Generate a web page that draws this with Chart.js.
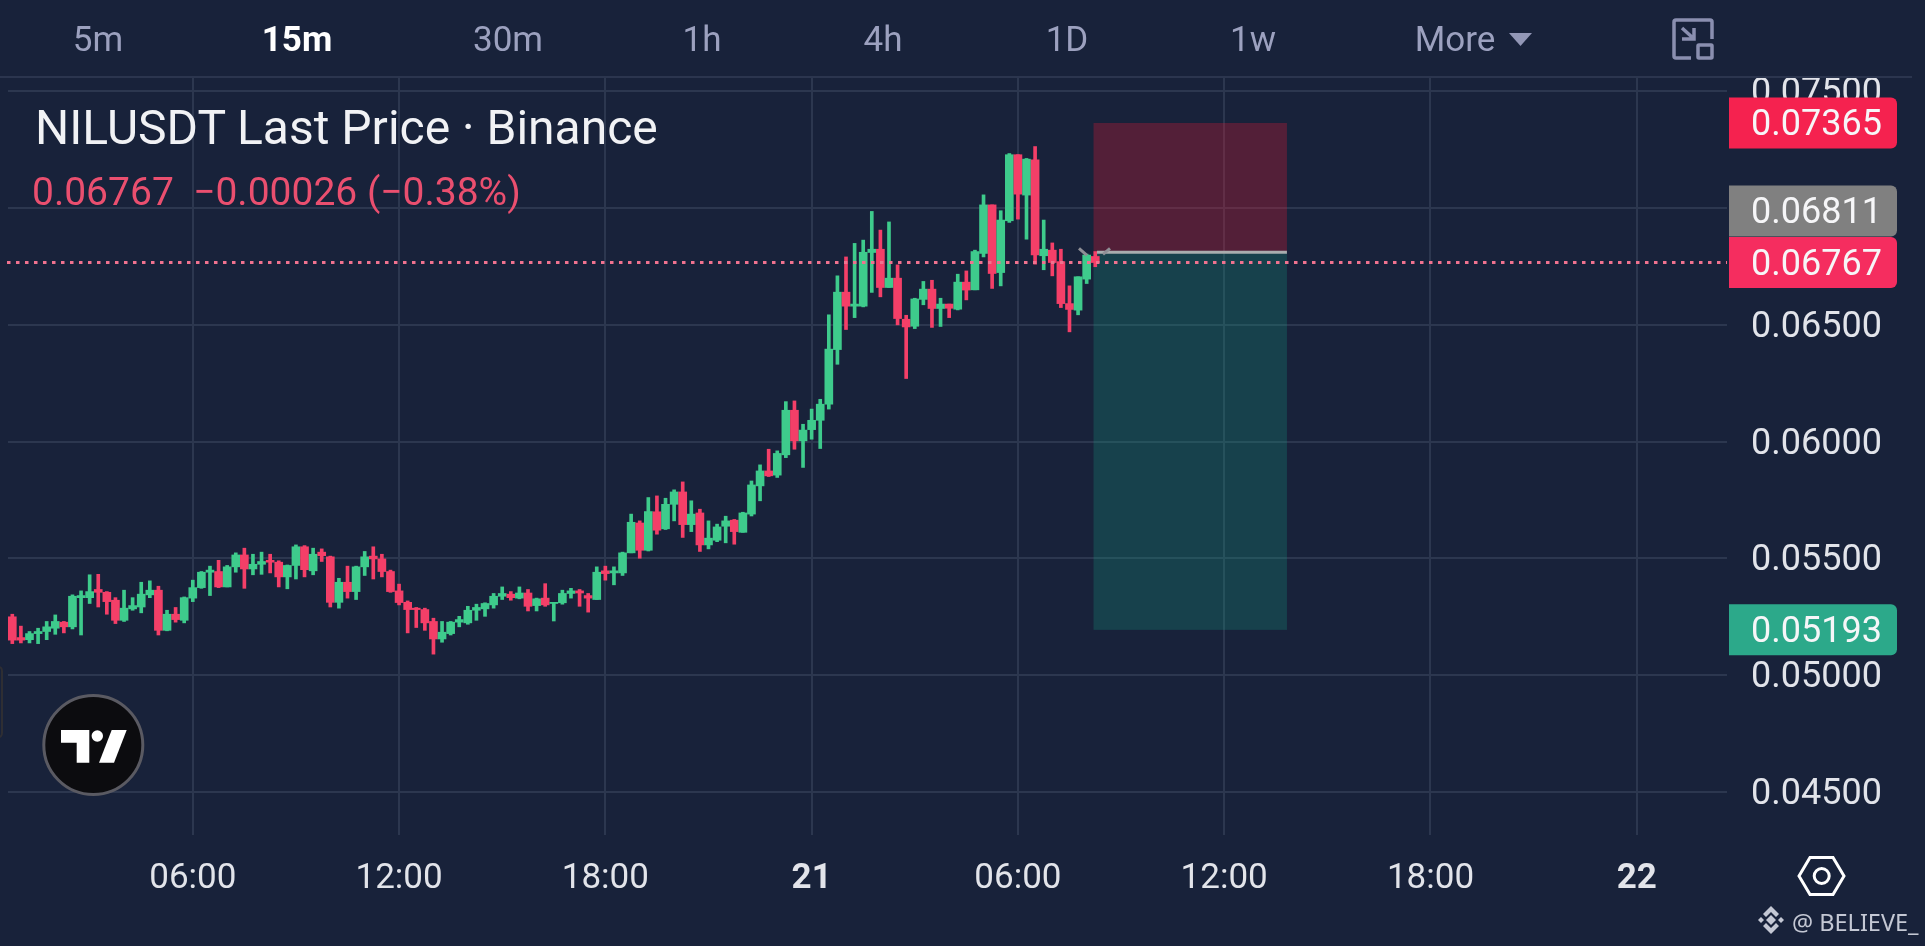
<!DOCTYPE html>
<html>
<head>
<meta charset="utf-8">
<title>NILUSDT</title>
<script src="https://cdn.jsdelivr.net/npm/chart.js@4"></script>
<style>
  html, body { margin: 0; padding: 0; background: #18223a; overflow: hidden; }
  #wrap { position: relative; width: 1925px; height: 946px; font-family: Roboto, sans-serif; }
  canvas { position: absolute; left: 0; top: 0; }
  svg { position: absolute; left: 0; top: 0; }
  .tf { position: absolute; top: 21px; font-size: 35px; line-height: 38px; color: #9ca1bf; transform: translateX(-50%); white-space: nowrap; }
  .tf.on { color: #fff; font-weight: 700; }
  #title { position: absolute; left: 35px; top: 102px; font-size: 48px; line-height: 52px; color: #f1f2f5; white-space: nowrap; }
  #change { position: absolute; left: 32px; top: 169px; font-size: 39px; line-height: 46px; color: #ea4f6f; white-space: pre; }
  #mark { position: absolute; left: 1792px; top: 906px; font-family: "Noto Sans", sans-serif; font-size: 23.5px; line-height: 32px; color: #c4c8d4; white-space: nowrap; }
</style>
</head>
<body>
<div id="wrap">
  <canvas id="chart" width="1925" height="946"></canvas>
  <span class="tf" style="left:98px">5m</span>
  <span class="tf on" style="left:297px">15m</span>
  <span class="tf" style="left:508px">30m</span>
  <span class="tf" style="left:702px">1h</span>
  <span class="tf" style="left:883px">4h</span>
  <span class="tf" style="left:1067px">1D</span>
  <span class="tf" style="left:1253px">1w</span>
  <span class="tf" style="left:1455px">More</span>
  <div id="title">NILUSDT Last Price · Binance</div>
  <div id="change">0.06767  −0.00026 (−0.38%)</div>
  <div id="mark">@ BELIEVE_</div>
  <svg width="1925" height="946" viewBox="0 0 1925 946">
    <polygon points="1509,33 1532,33 1520.5,46" fill="#9297b6"/>
    <g fill="none" stroke="#8a8fb0" stroke-width="3.5">
      <path d="M1691 58 H1676 a2 2 0 0 1 -2 -2 V22 a2 2 0 0 1 2 -2 H1710 a2 2 0 0 1 2 2 V39"/>
      <rect x="1698" y="45" width="14" height="13" rx="1"/>
      <path d="M1682 28 L1693 38 M1694 28 V39 H1682"/>
    </g>
    <rect x="-4" y="667" width="6" height="70" rx="4" fill="none" stroke="#2e2e33" stroke-width="2"/>
    <circle cx="93.3" cy="745" r="49.5" fill="#0c0c0f" stroke="#5a5a62" stroke-width="3"/>
    <polygon points="61,730 89.3,730 89.3,762.7 76.7,762.7 76.7,742.7 61,742.7" fill="#fff"/>
    <circle cx="97.3" cy="736" r="5.7" fill="#fff"/>
    <polygon points="111.7,730 126.7,730 114,762.7 99,762.7" fill="#fff"/>
    <polygon points="1799,876 1810,857.5 1833,857.5 1844,876 1833,894.5 1810,894.5" fill="none" stroke="#fff" stroke-width="3"/>
    <circle cx="1821.7" cy="876" r="7.5" fill="none" stroke="#fff" stroke-width="3"/>
    <g fill="#c4c8d4">
      <polygon points="1771,915 1776,920 1771,925 1766,920"/>
      <polygon points="1761,917 1764,920 1761,923 1758,920"/>
      <polygon points="1781,917 1784,920 1781,923 1778,920"/>
      <polygon points="1771,906 1779,914 1776,917 1771,912 1766,917 1763,914"/>
      <polygon points="1771,934 1779,926 1776,923 1771,928 1766,923 1763,926"/>
    </g>
  </svg>
</div>
<script>
// 15m candles, first one is 00:45 on the 20th
const opens = [
  0.05249,0.05160,0.05151,0.05177,0.05186,0.05200,0.05226,0.05206,0.05331,0.05331,
  0.05366,0.05354,0.05320,0.05234,0.05283,0.05291,0.05343,0.05363,0.05191,0.05260,
  0.05234,0.05329,0.05374,0.05440,0.05443,0.05377,0.05463,0.05514,0.05454,0.05474,
  0.05491,0.05483,0.05420,0.05469,0.05549,0.05446,0.05526,0.05506,0.05311,0.05397,
  0.05357,0.05463,0.05509,0.05497,0.05443,0.05360,0.05311,0.05286,0.05280,0.05229,
  0.05154,0.05177,0.05226,0.05223,0.05277,0.05283,0.05300,0.05337,0.05346,0.05329,
  0.05351,0.05297,0.05329,0.05306,0.05309,0.05349,0.05360,0.05340,0.05323,0.05446,
  0.05437,0.05437,0.05523,0.05651,0.05534,0.05699,0.05626,0.05731,0.05784,0.05644,
  0.05694,0.05557,0.05577,0.05637,0.05663,0.05611,0.05689,0.05810,0.05874,0.05856,
  0.05943,0.06134,0.06003,0.06051,0.06091,0.06160,0.06394,0.06640,0.06580,0.06580,
  0.06810,0.06824,0.06660,0.06700,0.06524,0.06494,0.06609,0.06653,0.06570,0.06589,
  0.06567,0.06683,0.06650,0.06806,0.07014,0.06724,0.06946,0.07229,0.07056,0.07207,
  0.06796,0.06820,0.06771,0.06591,0.06563,0.06696,0.06793];
const highs = [
  0.05260,0.05209,0.05186,0.05200,0.05229,0.05257,0.05229,0.05343,0.05360,0.05429,
  0.05431,0.05357,0.05331,0.05363,0.05331,0.05397,0.05403,0.05380,0.05277,0.05289,
  0.05334,0.05406,0.05443,0.05466,0.05491,0.05469,0.05523,0.05543,0.05517,0.05526,
  0.05517,0.05489,0.05471,0.05557,0.05554,0.05543,0.05540,0.05509,0.05414,0.05466,
  0.05466,0.05529,0.05549,0.05517,0.05449,0.05389,0.05317,0.05289,0.05286,0.05243,
  0.05229,0.05229,0.05251,0.05294,0.05303,0.05309,0.05349,0.05377,0.05357,0.05377,
  0.05366,0.05329,0.05391,0.05311,0.05363,0.05371,0.05366,0.05349,0.05463,0.05466,
  0.05463,0.05526,0.05689,0.05660,0.05760,0.05767,0.05757,0.05793,0.05827,0.05746,
  0.05710,0.05660,0.05646,0.05680,0.05666,0.05697,0.05831,0.05900,0.05967,0.05960,
  0.06171,0.06174,0.06074,0.06139,0.06181,0.06543,0.06710,0.06791,0.06849,0.06863,
  0.06986,0.06906,0.06941,0.06757,0.06541,0.06614,0.06686,0.06691,0.06614,0.06589,
  0.06717,0.06731,0.06820,0.07057,0.07014,0.06989,0.07234,0.07229,0.07213,0.07264,
  0.06949,0.06851,0.06824,0.06667,0.06706,0.06803,0.06814];
const lows = [
  0.05134,0.05137,0.05137,0.05134,0.05151,0.05174,0.05180,0.05197,0.05171,0.05306,
  0.05291,0.05260,0.05220,0.05229,0.05277,0.05266,0.05331,0.05171,0.05189,0.05226,
  0.05223,0.05314,0.05371,0.05340,0.05374,0.05377,0.05440,0.05371,0.05429,0.05431,
  0.05437,0.05377,0.05369,0.05411,0.05420,0.05429,0.05486,0.05291,0.05286,0.05329,
  0.05323,0.05426,0.05411,0.05420,0.05354,0.05300,0.05180,0.05203,0.05191,0.05089,
  0.05140,0.05171,0.05206,0.05217,0.05234,0.05251,0.05286,0.05323,0.05320,0.05326,
  0.05274,0.05274,0.05294,0.05231,0.05303,0.05329,0.05294,0.05269,0.05323,0.05406,
  0.05386,0.05426,0.05523,0.05500,0.05531,0.05603,0.05623,0.05660,0.05589,0.05614,
  0.05529,0.05540,0.05571,0.05566,0.05560,0.05611,0.05681,0.05746,0.05850,0.05846,
  0.05931,0.05967,0.05889,0.06010,0.05970,0.06139,0.06331,0.06480,0.06531,0.06577,
  0.06639,0.06620,0.06660,0.06500,0.06270,0.06484,0.06586,0.06489,0.06493,0.06531,
  0.06564,0.06607,0.06650,0.06791,0.06656,0.06667,0.06939,0.06953,0.06867,0.06760,
  0.06736,0.06710,0.06574,0.06470,0.06543,0.06677,0.06749];
const closes = [
  0.05149,0.05149,0.05177,0.05186,0.05206,0.05229,0.05206,0.05337,0.05340,0.05357,
  0.05354,0.05314,0.05234,0.05286,0.05297,0.05346,0.05363,0.05191,0.05260,0.05237,
  0.05331,0.05374,0.05440,0.05449,0.05377,0.05463,0.05514,0.05454,0.05474,0.05486,
  0.05483,0.05420,0.05469,0.05549,0.05451,0.05517,0.05511,0.05311,0.05397,0.05357,
  0.05463,0.05506,0.05497,0.05443,0.05357,0.05310,0.05280,0.05280,0.05223,0.05154,
  0.05183,0.05226,0.05237,0.05277,0.05289,0.05306,0.05337,0.05349,0.05331,0.05351,
  0.05294,0.05326,0.05300,0.05311,0.05349,0.05360,0.05351,0.05329,0.05440,0.05434,
  0.05446,0.05523,0.05654,0.05534,0.05700,0.05620,0.05731,0.05784,0.05644,0.05689,
  0.05557,0.05586,0.05634,0.05660,0.05614,0.05694,0.05814,0.05874,0.05853,0.05949,
  0.06134,0.06003,0.06049,0.06091,0.06160,0.06396,0.06640,0.06580,0.06589,0.06811,
  0.06824,0.06660,0.06700,0.06527,0.06491,0.06611,0.06653,0.06570,0.06589,0.06571,
  0.06683,0.06649,0.06814,0.07014,0.06720,0.06949,0.07229,0.07060,0.07210,0.06800,
  0.06824,0.06767,0.06591,0.06566,0.06706,0.06799,0.06767];

const priceTicks = [0.045, 0.05, 0.055, 0.06, 0.065, 0.07, 0.075];

const lastPrice = 0.06767;
const entryPrice = 0.06811;
const stopPrice = 0.07365;
const targetPrice = 0.05193;

const GREEN = '#3ecb8c';
const RED = '#f43f68';
const SLOTS = 200;

// x axis slots, the chart runs on past the last candle
const times = [];
for (let i = 0; i < SLOTS; i++) {
  const mins = 45 + 15 * i;
  const h = Math.floor(mins / 60) % 24;
  const m = mins % 60;
  if (h === 0 && m === 0) times.push(String(20 + mins / 1440));
  else times.push(String(h).padStart(2, '0') + ':' + String(m).padStart(2, '0'));
}

const candleColor = closes.map((c, i) => (c >= opens[i] ? GREEN : RED));
const wicks = lows.map((l, i) => [l, highs[i]]);
const bodies = opens.map((o, i) => [Math.min(o, closes[i]), Math.max(o, closes[i])]);

function roundRight(ctx, x, y, w, h, r) {
  ctx.beginPath();
  ctx.roundRect(x, y, w, h, [0, r, r, 0]);
  ctx.fill();
}

const overlays = {
  id: 'overlays',
  beforeDatasetsDraw(chart) {
    const { ctx, scales: { x, y } } = chart;
    const left = x.getPixelForValue(125.8);
    const right = x.getPixelForValue(148.3);
    ctx.save();
    ctx.fillStyle = 'rgba(242,25,50,0.275)';
    ctx.fillRect(left, y.getPixelForValue(stopPrice), right - left, y.getPixelForValue(entryPrice) - y.getPixelForValue(stopPrice));
    ctx.fillStyle = 'rgba(20,160,130,0.25)';
    ctx.fillRect(left, y.getPixelForValue(entryPrice), right - left, y.getPixelForValue(targetPrice) - y.getPixelForValue(entryPrice));
    // top border of the pane
    ctx.strokeStyle = '#2b354e';
    ctx.lineWidth = 2;
    ctx.beginPath();
    ctx.moveTo(0, 77);
    ctx.lineTo(1912, 77);
    ctx.stroke();
    ctx.restore();
  },
  afterDatasetsDraw(chart) {
    const { ctx, scales: { x, y } } = chart;
    const ey = y.getPixelForValue(entryPrice);
    const ly = y.getPixelForValue(lastPrice);
    ctx.save();
    ctx.strokeStyle = '#a9adae';
    ctx.lineWidth = 3;
    ctx.beginPath();
    ctx.moveTo(x.getPixelForValue(126.2), ey);
    ctx.lineTo(x.getPixelForValue(148.3), ey);
    ctx.stroke();
    ctx.strokeStyle = '#8f8f96';
    ctx.beginPath();
    ctx.moveTo(1079, ey - 4);
    ctx.lineTo(1087, ey + 3);
    ctx.moveTo(1103, ey + 2);
    ctx.lineTo(1110, ey - 4);
    ctx.stroke();
    ctx.strokeStyle = '#f0728f';
    ctx.setLineDash([3.5, 5.5]);
    ctx.beginPath();
    ctx.moveTo(7, ly);
    ctx.lineTo(1727, ly);
    ctx.stroke();
    ctx.restore();
  },
  afterDraw(chart) {
    const { ctx, scales: { y } } = chart;
    const tags = [
      { text: '0.07365', cy: y.getPixelForValue(stopPrice), bg: '#f5224f' },
      { text: '0.06811', cy: 211, bg: '#808080' },
      { text: '0.06767', cy: y.getPixelForValue(lastPrice), bg: '#f52d5f' },
      { text: '0.05193', cy: y.getPixelForValue(targetPrice), bg: '#2ca98a' },
    ];
    ctx.save();
    ctx.font = '36px Roboto';
    ctx.textBaseline = 'middle';
    tags.forEach(t => {
      ctx.fillStyle = t.bg;
      roundRight(ctx, 1729, t.cy - 25.5, 168, 51, 6);
      ctx.fillStyle = '#f6f6f8';
      ctx.fillText(t.text, 1751, t.cy + 3);
    });
    ctx.restore();
  },
};

new Chart(document.getElementById('chart'), {
  type: 'bar',
  data: {
    labels: times,
    datasets: [
      { label: 'wick', data: wicks, backgroundColor: candleColor, barThickness: 3, order: 2 },
      { label: 'body', data: bodies, backgroundColor: candleColor, barThickness: 8, order: 1 },
    ],
  },
  options: {
    responsive: false,
    animation: false,
    devicePixelRatio: 1,
    layout: { padding: { left: 8, top: 77, right: 0, bottom: 0 } },
    datasets: { bar: { grouped: false, borderWidth: 0, borderSkipped: false } },
    plugins: { legend: { display: false }, tooltip: { enabled: false } },
    scales: {
      x: {
        grid: { color: '#2c374f', lineWidth: 2, offset: false, drawTicks: false },
        border: { display: false },
        afterFit: s => { s.height = 111; },
        afterBuildTicks: s => { s.ticks = s.ticks.filter(t => t.value >= 21 && (t.value - 21) % 24 === 0); },
        ticks: {
          autoSkip: false,
          maxRotation: 0,
          padding: 23,
          color: '#e2e4ea',
          font: ctx => ({ family: 'Roboto', size: 35, weight: ctx.tick && ctx.tick.label.length < 3 ? '700' : '400' }),
          callback(value) { return this.getLabelForValue(value); },
        },
      },
      y: {
        position: 'right',
        min: 0.04314,
        max: 0.07562,
        grid: { color: '#2c374f', lineWidth: 2, drawTicks: false },
        border: { display: false },
        afterFit: s => { s.width = 198; },
        afterBuildTicks: s => { s.ticks = priceTicks.map(v => ({ value: v })); },
        ticks: {
          padding: 24,
          labelOffset: 3,
          color: '#e2e4ea',
          font: { family: 'Roboto', size: 36 },
          callback: v => v.toFixed(5),
        },
      },
    },
  },
  plugins: [overlays],
});
</script>
</body>
</html>
